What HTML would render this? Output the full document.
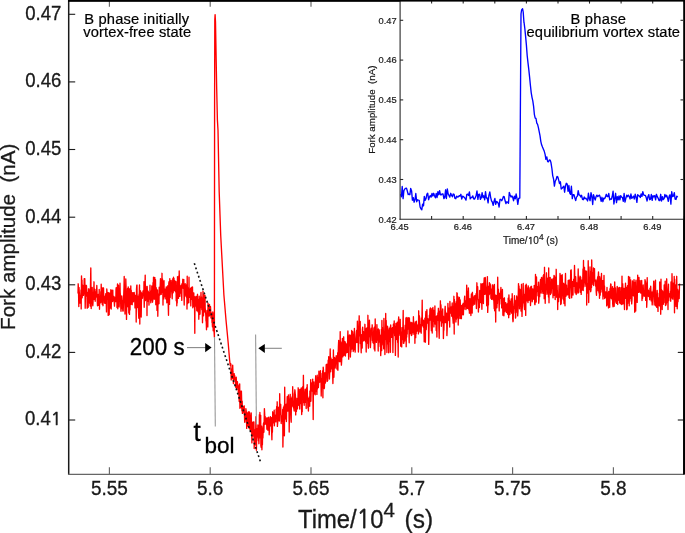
<!DOCTYPE html>
<html><head><meta charset="utf-8"><style>
html,body{margin:0;padding:0;background:#fff;}
body{width:685px;height:533px;overflow:hidden;}
svg{display:block;font-family:"Liberation Sans",Arial,sans-serif;}
</style></head><body>
<svg width="685" height="533" viewBox="0 0 685 533">
<rect width="685" height="533" fill="#fff"/>
<!-- main curve -->
<polyline points="78.0,293.5 78.2,283.8 78.5,289.7 78.8,306.5 79.0,287.4 79.2,291.0 79.5,294.9 79.8,297.3 80.0,303.1 80.2,300.3 80.5,301.6 80.8,298.5 81.0,289.9 81.2,308.9 81.5,275.9 81.8,283.8 82.0,280.1 82.2,297.8 82.5,291.8 82.8,290.2 83.0,285.3 83.2,293.4 83.5,295.4 83.8,293.1 84.0,289.9 84.2,278.7 84.5,285.5 84.8,278.6 85.0,288.4 85.2,308.2 85.5,292.2 85.8,288.4 86.0,289.0 86.2,285.3 86.5,285.8 86.8,296.6 87.0,296.6 87.2,308.3 87.5,293.0 87.8,303.4 88.0,292.3 88.2,307.3 88.5,288.8 88.8,291.1 89.0,295.5 89.2,300.0 89.5,302.8 89.8,303.6 90.0,288.7 90.2,306.0 90.5,284.8 90.8,268.0 91.0,286.5 91.2,308.5 91.5,287.5 91.8,288.7 92.0,301.4 92.2,287.4 92.5,302.1 92.8,305.8 93.0,302.7 93.2,296.9 93.5,296.3 93.8,289.7 94.0,281.8 94.2,299.2 94.5,298.4 94.8,299.5 95.0,289.3 95.2,301.3 95.5,294.6 95.8,297.1 96.0,291.8 96.2,293.5 96.5,294.9 96.8,285.5 97.0,290.8 97.2,299.4 97.5,305.8 97.8,299.9 98.0,297.9 98.2,294.4 98.5,305.4 98.8,305.1 99.0,303.9 99.2,289.4 99.5,309.2 99.8,296.3 100.0,297.0 100.2,299.4 100.5,302.8 100.8,291.6 101.0,298.1 101.2,284.2 101.5,302.1 101.8,297.5 102.0,288.0 102.2,304.3 102.5,299.2 102.8,290.4 103.0,305.7 103.2,287.8 103.5,288.0 103.8,298.6 104.0,298.9 104.2,296.6 104.5,303.0 104.8,297.9 105.0,303.3 105.2,295.9 105.5,297.6 105.8,293.6 106.0,303.2 106.2,300.7 106.5,311.9 106.8,289.0 107.0,291.7 107.2,299.1 107.5,293.3 107.8,293.3 108.0,292.6 108.2,315.4 108.5,307.6 108.8,297.8 109.0,292.7 109.2,314.7 109.5,294.7 109.8,308.3 110.0,300.7 110.2,293.5 110.5,299.5 110.8,289.8 111.0,295.8 111.2,309.1 111.5,296.1 111.8,290.2 112.0,299.1 112.2,295.1 112.5,301.6 112.8,290.1 113.0,300.9 113.2,298.2 113.5,300.7 113.8,296.4 114.0,296.5 114.2,301.9 114.5,306.1 114.8,298.5 115.0,299.5 115.2,298.2 115.5,297.1 115.8,301.6 116.0,289.7 116.2,287.6 116.5,295.1 116.8,296.0 117.0,307.5 117.2,294.9 117.5,284.0 117.8,308.8 118.0,292.9 118.2,305.6 118.5,285.2 118.8,302.9 119.0,305.5 119.2,306.9 119.5,289.7 119.8,296.6 120.0,283.2 120.2,292.5 120.5,296.1 120.8,307.7 121.0,311.3 121.2,298.1 121.5,308.8 121.8,295.9 122.0,298.0 122.2,301.7 122.5,300.5 122.8,311.0 123.0,303.5 123.2,311.0 123.5,302.5 123.8,292.2 124.0,287.2 124.2,276.4 124.5,296.8 124.8,299.0 125.0,314.0 125.2,286.2 125.5,301.2 125.8,279.0 126.0,285.1 126.2,296.8 126.5,319.4 126.8,301.9 127.0,292.9 127.2,303.0 127.5,288.7 127.8,299.5 128.0,306.7 128.2,286.9 128.5,290.2 128.8,313.1 129.0,305.5 129.2,303.7 129.5,314.4 129.8,288.6 130.0,309.9 130.2,298.4 130.5,297.6 130.8,285.9 131.0,304.3 131.2,290.1 131.5,297.3 131.8,298.2 132.0,302.6 132.2,304.7 132.5,292.8 132.8,299.1 133.0,292.6 133.2,301.8 133.5,301.3 133.8,295.2 134.0,297.3 134.2,292.5 134.5,297.3 134.8,300.1 135.0,307.9 135.2,298.7 135.5,297.2 135.8,295.2 136.0,295.5 136.2,322.1 136.5,289.3 136.8,285.4 137.0,285.0 137.2,307.6 137.5,299.4 137.8,300.2 138.0,296.1 138.2,302.6 138.5,311.5 138.8,318.2 139.0,294.2 139.2,295.8 139.5,285.0 139.8,324.1 140.0,301.9 140.2,294.3 140.5,290.8 140.8,302.5 141.0,292.1 141.2,317.0 141.5,296.8 141.8,293.1 142.0,298.0 142.2,293.9 142.5,298.2 142.8,295.3 143.0,291.0 143.2,293.3 143.5,291.6 143.8,294.5 144.0,281.6 144.2,307.2 144.5,297.8 144.8,300.3 145.0,284.6 145.2,275.1 145.5,300.5 145.8,292.9 146.0,295.8 146.2,288.7 146.5,291.4 146.8,286.4 147.0,315.5 147.2,286.4 147.5,301.4 147.8,301.4 148.0,297.1 148.2,291.1 148.5,300.2 148.8,300.9 149.0,305.1 149.2,294.3 149.5,292.5 149.8,294.7 150.0,285.2 150.2,299.1 150.5,297.6 150.8,302.8 151.0,291.1 151.2,291.5 151.5,300.2 151.8,285.9 152.0,294.6 152.2,286.6 152.5,302.2 152.8,300.0 153.0,282.6 153.2,295.4 153.5,277.1 153.8,289.4 154.0,295.7 154.2,299.3 154.5,285.2 154.8,277.5 155.0,298.8 155.2,284.7 155.5,279.7 155.8,304.7 156.0,289.4 156.2,287.7 156.5,292.5 156.8,298.7 157.0,310.4 157.2,299.7 157.5,290.0 157.8,316.2 158.0,302.8 158.2,294.2 158.5,296.2 158.8,297.5 159.0,303.7 159.2,287.3 159.5,293.1 159.8,295.0 160.0,289.7 160.2,285.6 160.5,278.6 160.8,285.9 161.0,291.7 161.2,294.4 161.5,290.7 161.8,289.0 162.0,273.3 162.2,292.3 162.5,278.9 162.8,287.7 163.0,305.1 163.2,285.7 163.5,281.8 163.8,298.9 164.0,280.6 164.2,297.0 164.5,295.7 164.8,293.8 165.0,289.1 165.2,295.6 165.5,289.2 165.8,298.9 166.0,297.0 166.2,286.9 166.5,288.3 166.8,302.8 167.0,296.4 167.2,287.0 167.5,292.7 167.8,285.8 168.0,297.0 168.2,303.7 168.5,315.3 168.8,283.1 169.0,281.8 169.2,282.9 169.5,304.4 169.8,278.7 170.0,297.4 170.2,297.4 170.5,282.1 170.8,280.7 171.0,285.8 171.2,280.4 171.5,289.6 171.8,292.6 172.0,295.3 172.2,298.8 172.5,285.0 172.8,278.7 173.0,292.8 173.2,292.5 173.5,277.2 173.8,282.7 174.0,278.4 174.2,290.6 174.5,287.3 174.8,288.4 175.0,280.8 175.2,285.4 175.5,291.7 175.8,285.1 176.0,281.6 176.2,300.8 176.5,288.0 176.8,305.8 177.0,293.8 177.2,303.0 177.5,276.6 177.8,283.6 178.0,290.6 178.2,291.3 178.5,298.4 178.8,276.0 179.0,294.1 179.2,270.9 179.5,283.7 179.8,296.4 180.0,291.0 180.2,290.2 180.5,293.1 180.8,285.8 181.0,288.8 181.2,285.3 181.5,292.6 181.8,300.4 182.0,283.6 182.2,287.4 182.5,285.5 182.8,279.3 183.0,286.2 183.2,288.3 183.5,282.8 183.8,279.5 184.0,295.8 184.2,305.0 184.5,287.8 184.8,295.3 185.0,293.2 185.2,283.7 185.5,289.6 185.8,286.8 186.0,296.4 186.2,285.3 186.5,297.3 186.8,284.3 187.0,309.1 187.2,276.2 187.5,303.7 187.8,296.8 188.0,299.7 188.2,298.3 188.5,287.6 188.8,302.7 189.0,277.2 189.2,296.8 189.5,293.8 189.8,293.2 190.0,297.3 190.2,293.1 190.5,288.5 190.8,305.9 191.0,297.4 191.2,288.0 191.5,287.4 191.8,290.1 192.0,294.7 192.2,299.4 192.5,287.0 192.8,307.8 193.0,298.5 193.2,300.7 193.5,293.0 193.8,293.0 194.0,302.7 194.2,306.7 194.5,297.4 194.8,333.3 195.0,296.8 195.2,298.1 195.5,302.0 195.8,298.8 196.0,306.0 196.2,296.3 196.5,301.2 196.8,310.7 197.0,299.2 197.2,303.5 197.5,294.3 197.8,308.0 198.0,311.7 198.2,303.8 198.5,299.6 198.8,319.2 199.0,312.1 199.2,296.1 199.5,310.0 199.8,300.2 200.0,314.2 200.2,307.6 200.5,298.2 200.8,297.3 201.0,292.5 201.2,307.6 201.5,296.9 201.8,309.7 202.0,309.8 202.2,304.8 202.5,322.7 202.8,305.6 203.0,291.3 203.2,311.3 203.5,315.8 203.8,294.6 204.0,303.0 204.2,312.1 204.5,299.4 204.8,311.9 205.0,295.2 205.2,307.8 205.5,312.1 205.8,315.1 206.0,320.9 206.2,320.2 206.5,329.7 206.8,319.4 207.0,310.5 207.2,314.9 207.5,311.0 207.8,326.9 208.0,303.1 208.2,306.1 208.5,312.9 208.8,307.5 209.0,314.3 209.2,316.1 209.5,304.5 209.8,307.6 210.0,315.2 210.2,312.0 210.5,306.6 210.8,312.4 211.0,318.0 211.2,312.6 211.5,316.4 211.8,313.1 212.0,322.6 212.2,322.1 212.5,326.9 212.8,311.9 213.0,313.3 213.2,330.7 213.5,321.6 214.4,337 214.6,100 214.8,20 215.1,14.6 215.5,22 216.7,89 217.4,120 218,130 219.2,192 220.7,235 223.9,295 226,320 228.2,343 229.6,360 230.2,365.2 230.4,364.3 230.7,363.6 230.9,364.4 231.2,379.9 231.4,369.0 231.7,377.2 231.9,372.4 232.2,371.8 232.4,378.3 232.7,365.2 232.9,371.9 233.2,375.4 233.4,383.6 233.7,379.5 233.9,380.1 234.2,373.6 234.4,374.9 234.7,375.8 234.9,379.9 235.2,380.0 235.4,379.2 235.7,387.3 235.9,384.9 236.2,377.1 236.4,380.2 236.7,389.6 236.9,382.2 237.2,385.2 237.4,381.6 237.7,385.2 237.9,384.9 238.2,388.4 238.4,392.7 238.7,390.0 238.9,394.2 239.2,401.5 239.4,385.1 239.7,384.0 239.9,408.3 240.2,405.3 240.4,399.4 240.7,394.3 240.9,391.2 241.2,407.8 241.4,391.1 241.7,401.9 241.9,410.8 242.2,401.1 242.4,413.4 242.7,406.9 242.9,409.4 243.2,409.8 243.4,406.6 243.7,407.0 243.9,412.9 244.2,405.8 244.4,413.1 244.7,422.2 244.9,422.3 245.2,418.6 245.4,416.3 245.7,414.9 245.9,408.6 246.2,411.0 246.4,413.3 246.7,428.4 246.9,413.0 247.2,413.6 247.4,413.0 247.7,418.1 247.9,426.1 248.2,417.0 248.4,411.8 248.7,417.1 248.9,420.7 249.2,428.2 249.4,411.9 249.7,414.2 249.9,429.2 250.2,415.4 250.4,415.9 250.7,431.7 250.9,427.4 251.2,412.9 251.4,422.8 251.7,429.6 251.9,442.9 252.2,428.3 252.4,435.2 252.7,422.1 252.9,436.0 253.2,433.7 253.4,431.5 253.7,429.6 253.9,421.8 254.2,448.6 254.4,439.0 254.7,432.6 254.9,445.2 255.2,432.5 255.4,429.3 255.7,432.3 255.9,416.8 256.2,432.2 256.4,450.3 256.7,436.3 256.9,438.3 257.2,428.4 257.4,435.7 257.7,436.4 257.9,424.9 258.2,427.7 258.4,440.7 258.7,432.7 258.9,443.7 259.2,433.1 259.4,414.6 259.7,433.7 259.9,412.5 260.2,437.8 260.4,437.6 260.7,415.3 260.9,445.7 261.2,447.3 261.4,429.9 261.7,426.2 261.9,449.7 262.2,438.7 262.4,444.7 262.7,427.9 262.9,437.9 263.2,429.3 263.4,424.0 263.7,422.7 263.9,432.2 264.2,418.8 264.4,408.6 264.7,414.3 264.9,424.2 265.2,416.4 265.4,422.5 265.7,423.0 265.9,424.0 266.2,423.4 266.4,418.2 266.7,424.6 266.9,429.2 267.2,417.7 267.4,423.0 267.7,422.7 267.9,430.3 268.2,418.6 268.4,420.8 268.7,417.2 268.9,418.5 269.2,434.8 269.4,431.3 269.7,422.7 269.9,424.8 270.2,421.4 270.4,416.6 270.7,423.3 270.9,426.0 271.2,419.5 271.4,417.7 271.7,434.0 271.9,439.8 272.2,423.4 272.4,432.2 272.7,411.8 272.9,419.3 273.2,414.3 273.4,422.8 273.7,416.5 273.9,418.2 274.2,410.1 274.4,425.8 274.7,415.1 274.9,415.3 275.2,416.7 275.4,419.5 275.7,416.8 275.9,421.9 276.2,409.2 276.4,414.0 276.7,406.5 276.9,416.1 277.2,401.8 277.4,426.4 277.7,422.5 277.9,420.6 278.2,407.2 278.4,420.6 278.7,418.1 278.9,409.0 279.2,418.4 279.4,421.0 279.7,393.7 279.9,408.1 280.2,405.5 280.4,414.3 280.7,404.3 280.9,414.2 281.2,423.5 281.4,416.6 281.7,421.0 281.9,415.8 282.2,418.6 282.4,419.2 282.7,409.5 282.9,447.0 283.2,429.9 283.4,407.9 283.7,407.0 283.9,407.8 284.2,405.6 284.4,435.8 284.7,387.2 284.9,406.9 285.2,414.7 285.4,407.8 285.7,416.4 285.9,419.3 286.2,404.3 286.4,421.6 286.7,407.7 286.9,408.6 287.2,396.7 287.4,396.7 287.7,411.1 287.9,408.8 288.2,409.1 288.4,394.9 288.7,398.9 288.9,399.3 289.2,432.1 289.4,415.5 289.7,413.3 289.9,407.7 290.2,394.3 290.4,411.4 290.7,411.6 290.9,419.1 291.2,422.2 291.4,398.3 291.7,405.4 291.9,401.0 292.2,396.6 292.4,406.0 292.7,386.7 292.9,402.1 293.2,400.8 293.4,407.8 293.7,403.5 293.9,408.8 294.2,411.0 294.4,394.0 294.7,392.1 294.9,389.8 295.2,393.6 295.4,395.2 295.7,414.9 295.9,405.1 296.2,404.4 296.4,411.4 296.7,406.0 296.9,398.3 297.2,404.7 297.4,408.9 297.7,402.5 297.9,402.7 298.2,387.8 298.4,405.3 298.7,401.1 298.9,402.9 299.2,389.4 299.4,394.3 299.7,409.0 299.9,400.1 300.2,403.8 300.4,397.8 300.7,389.1 300.9,398.5 301.2,387.9 301.4,400.1 301.7,414.5 301.9,402.3 302.2,411.7 302.4,388.7 302.7,386.7 302.9,391.0 303.2,394.4 303.4,375.3 303.7,402.7 303.9,395.7 304.2,405.3 304.4,392.1 304.7,393.9 304.9,392.6 305.2,389.1 305.4,402.4 305.7,396.9 305.9,394.9 306.2,408.6 306.4,390.8 306.7,387.6 306.9,394.1 307.2,384.6 307.4,395.0 307.7,400.6 307.9,407.9 308.2,399.3 308.4,411.1 308.7,399.1 308.9,398.3 309.2,397.8 309.4,396.9 309.7,406.2 309.9,390.9 310.2,397.9 310.4,397.0 310.7,379.6 310.9,401.2 311.2,386.9 311.4,385.1 311.7,390.5 311.9,382.9 312.2,384.0 312.4,391.2 312.7,379.1 312.9,391.7 313.2,419.5 313.4,386.9 313.7,392.3 313.9,381.9 314.2,393.9 314.4,393.6 314.7,385.8 314.9,388.1 315.2,394.8 315.4,382.2 315.7,375.8 315.9,391.4 316.2,383.5 316.4,383.2 316.7,384.5 316.9,394.4 317.2,375.2 317.4,388.9 317.7,381.7 317.9,380.2 318.2,377.1 318.4,387.5 318.7,381.6 318.9,371.1 319.2,377.6 319.4,376.8 319.7,382.2 319.9,380.4 320.2,380.1 320.4,370.6 320.7,380.4 320.9,373.5 321.2,396.0 321.4,388.4 321.7,387.1 321.9,378.5 322.2,386.8 322.4,379.8 322.7,370.6 322.9,397.8 323.2,367.1 323.4,369.1 323.7,377.4 323.9,375.0 324.2,388.5 324.4,387.6 324.7,374.7 324.9,372.7 325.2,381.5 325.4,383.0 325.7,379.9 325.9,375.2 326.2,364.6 326.4,373.4 326.7,372.7 326.9,364.2 327.2,381.4 327.4,377.3 327.7,380.5 327.9,368.9 328.2,360.1 328.4,368.5 328.7,356.6 328.9,363.5 329.2,372.7 329.4,379.0 329.7,372.1 329.9,365.7 330.2,348.9 330.4,357.9 330.7,371.7 330.9,357.9 331.2,359.7 331.4,367.8 331.7,366.4 331.9,368.7 332.2,360.7 332.4,359.6 332.7,375.2 332.9,383.5 333.2,371.0 333.4,350.0 333.7,369.4 333.9,377.3 334.2,366.8 334.4,357.5 334.7,366.2 334.9,361.9 335.2,368.0 335.4,364.4 335.7,357.9 335.9,361.7 336.2,355.7 336.4,360.7 336.7,360.0 336.9,369.1 337.2,357.0 337.4,364.1 337.7,352.7 337.9,370.3 338.2,352.7 338.4,346.8 338.7,340.4 338.9,356.4 339.2,355.8 339.4,361.6 339.7,359.4 339.9,361.8 340.2,331.6 340.4,357.6 340.7,359.6 340.9,341.8 341.2,360.5 341.4,365.1 341.7,360.3 341.9,349.4 342.2,348.0 342.4,338.4 342.7,346.8 342.9,356.8 343.2,348.0 343.4,340.5 343.7,336.8 343.9,355.4 344.2,341.2 344.4,354.6 344.7,341.8 344.9,351.7 345.2,341.8 345.4,356.1 345.7,343.1 345.9,349.8 346.2,351.7 346.4,352.8 346.7,344.1 346.9,346.2 347.2,351.9 347.4,352.4 347.7,336.6 347.9,330.9 348.2,349.3 348.4,348.9 348.7,359.2 348.9,336.1 349.2,340.6 349.4,334.9 349.7,344.3 349.9,345.7 350.2,341.1 350.4,357.1 350.7,335.2 350.9,352.1 351.2,343.0 351.4,345.1 351.7,330.5 351.9,349.1 352.2,335.5 352.4,348.3 352.7,331.7 352.9,334.8 353.2,351.5 353.4,349.6 353.7,339.9 353.9,334.3 354.2,344.4 354.4,328.4 354.7,350.0 354.9,349.1 355.2,352.1 355.4,340.1 355.7,342.6 355.9,338.9 356.2,334.3 356.4,331.7 356.7,330.2 356.9,342.5 357.2,331.0 357.4,321.1 357.7,334.5 357.9,334.4 358.2,341.7 358.4,352.1 358.7,343.6 358.9,325.6 359.2,315.8 359.4,335.8 359.7,330.1 359.9,335.9 360.2,321.5 360.4,343.5 360.7,335.0 360.9,344.1 361.2,352.8 361.4,334.6 361.7,340.2 361.9,339.1 362.2,348.1 362.4,329.7 362.7,327.2 362.9,341.1 363.2,338.3 363.4,331.3 363.7,336.5 363.9,333.4 364.2,340.7 364.4,339.5 364.7,337.7 364.9,324.3 365.2,332.5 365.4,330.5 365.7,342.1 365.9,335.3 366.2,352.1 366.4,328.5 366.7,331.2 366.9,329.6 367.2,327.7 367.4,328.3 367.7,343.5 367.9,315.3 368.2,345.4 368.4,348.2 368.7,329.3 368.9,336.6 369.2,329.7 369.4,320.1 369.7,331.5 369.9,329.8 370.2,341.1 370.4,347.6 370.7,342.2 370.9,336.8 371.2,328.3 371.4,334.7 371.7,333.7 371.9,332.7 372.2,324.8 372.4,340.5 372.7,337.4 372.9,342.5 373.2,333.8 373.4,343.2 373.7,331.0 373.9,328.0 374.2,349.0 374.4,327.3 374.7,338.3 374.9,350.9 375.2,318.9 375.4,331.0 375.7,340.8 375.9,336.8 376.2,335.0 376.4,342.4 376.7,334.5 376.9,324.6 377.2,334.0 377.4,340.0 377.7,331.1 377.9,334.5 378.2,351.0 378.4,329.0 378.7,342.1 378.9,339.8 379.2,329.9 379.4,334.2 379.7,335.8 379.9,341.3 380.2,346.4 380.4,335.4 380.7,355.6 380.9,350.9 381.2,339.4 381.4,329.4 381.7,350.5 381.9,320.5 382.2,339.0 382.4,327.3 382.7,339.1 382.9,339.4 383.2,344.9 383.4,335.2 383.7,348.8 383.9,318.5 384.2,335.7 384.4,338.4 384.7,331.6 384.9,354.6 385.2,338.6 385.4,339.8 385.7,313.4 385.9,332.9 386.2,320.4 386.4,332.0 386.7,341.9 386.9,352.6 387.2,336.9 387.4,326.2 387.7,327.3 387.9,331.9 388.2,343.8 388.4,331.2 388.7,352.8 388.9,329.9 389.2,339.2 389.4,328.4 389.7,340.5 389.9,341.6 390.2,327.0 390.4,352.3 390.7,324.9 390.9,333.5 391.2,328.2 391.4,337.3 391.7,337.4 391.9,328.1 392.2,330.4 392.4,327.7 392.7,332.0 392.9,352.5 393.2,332.2 393.4,324.3 393.7,329.1 393.9,332.9 394.2,320.9 394.4,329.4 394.7,335.6 394.9,326.1 395.2,331.7 395.4,355.4 395.7,334.8 395.9,323.5 396.2,335.2 396.4,326.5 396.7,326.8 396.9,339.5 397.2,322.1 397.4,331.0 397.7,342.4 397.9,335.8 398.2,357.1 398.4,321.1 398.7,316.9 398.9,335.4 399.2,329.5 399.4,323.9 399.7,333.7 399.9,330.6 400.2,319.3 400.4,332.6 400.7,346.2 400.9,332.2 401.2,331.9 401.4,334.9 401.7,346.9 401.9,327.6 402.2,339.0 402.4,339.5 402.7,332.8 402.9,327.0 403.2,310.4 403.4,343.3 403.7,329.8 403.9,343.2 404.2,333.0 404.4,335.7 404.7,341.1 404.9,331.0 405.2,325.1 405.4,327.5 405.7,328.9 405.9,317.9 406.2,346.7 406.4,326.5 406.7,337.1 406.9,317.4 407.2,334.1 407.4,318.5 407.7,324.7 407.9,326.8 408.2,329.0 408.4,317.7 408.7,322.6 408.9,329.4 409.2,342.8 409.4,317.9 409.7,332.8 409.9,323.6 410.2,322.2 410.4,323.1 410.7,333.7 410.9,328.9 411.2,330.7 411.4,335.5 411.7,322.4 411.9,334.9 412.2,328.1 412.4,332.9 412.7,330.1 412.9,323.0 413.2,332.3 413.4,316.7 413.7,328.9 413.9,334.2 414.2,326.9 414.4,329.2 414.7,323.8 414.9,343.3 415.2,321.9 415.4,334.6 415.7,337.7 415.9,325.8 416.2,333.7 416.4,321.2 416.7,330.5 416.9,330.2 417.2,331.0 417.4,327.4 417.7,326.7 417.9,325.4 418.2,324.3 418.4,333.9 418.7,310.8 418.9,322.3 419.2,324.3 419.4,315.7 419.7,320.9 419.9,331.9 420.2,328.4 420.4,328.0 420.7,325.1 420.9,324.4 421.2,333.2 421.4,317.9 421.7,323.2 421.9,322.7 422.2,300.1 422.4,322.6 422.7,325.9 422.9,319.7 423.2,321.1 423.4,327.2 423.7,320.6 423.9,327.4 424.2,341.8 424.4,325.3 424.7,327.5 424.9,318.1 425.2,328.6 425.4,342.2 425.7,315.1 425.9,311.5 426.2,329.7 426.4,326.8 426.7,321.1 426.9,309.6 427.2,323.2 427.4,318.3 427.7,319.7 427.9,322.8 428.2,319.0 428.4,323.9 428.7,344.4 428.9,337.0 429.2,321.4 429.4,315.3 429.7,316.7 429.9,308.9 430.2,320.0 430.4,307.9 430.7,315.5 430.9,315.5 431.2,326.5 431.4,330.7 431.7,319.3 431.9,308.7 432.2,333.1 432.4,319.3 432.7,321.1 432.9,307.5 433.2,319.8 433.4,317.9 433.7,310.5 433.9,326.9 434.2,311.9 434.4,319.2 434.7,320.2 434.9,305.9 435.2,324.1 435.4,316.5 435.7,322.5 435.9,319.5 436.2,330.5 436.4,316.2 436.7,323.4 436.9,337.0 437.2,317.3 437.4,315.4 437.7,320.3 437.9,313.0 438.2,317.8 438.4,308.3 438.7,314.8 438.9,328.7 439.2,338.3 439.4,321.8 439.7,311.1 439.9,317.4 440.2,314.1 440.4,300.8 440.7,320.9 440.9,304.7 441.2,311.7 441.4,326.3 441.7,318.1 441.9,320.5 442.2,317.3 442.4,313.5 442.7,308.9 442.9,323.1 443.2,316.0 443.4,338.5 443.7,327.3 443.9,330.2 444.2,316.6 444.4,321.2 444.7,322.5 444.9,310.2 445.2,306.3 445.4,316.7 445.7,312.2 445.9,322.7 446.2,313.4 446.4,317.4 446.7,313.5 446.9,335.6 447.2,328.9 447.4,317.6 447.7,320.8 447.9,303.4 448.2,316.0 448.4,320.2 448.7,314.2 448.9,308.2 449.2,312.0 449.4,319.9 449.7,327.0 449.9,301.4 450.2,310.6 450.4,313.3 450.7,312.5 450.9,312.4 451.2,306.9 451.4,306.9 451.7,316.2 451.9,308.7 452.2,303.0 452.4,309.8 452.7,317.1 452.9,319.1 453.2,323.1 453.4,308.1 453.7,306.6 453.9,296.3 454.2,334.1 454.4,299.4 454.7,311.0 454.9,315.8 455.2,303.8 455.4,312.0 455.7,318.6 455.9,322.0 456.2,301.6 456.4,319.1 456.7,312.6 456.9,292.8 457.2,293.2 457.4,317.8 457.7,302.2 457.9,296.6 458.2,325.1 458.4,317.9 458.7,307.0 458.9,300.7 459.2,298.3 459.4,297.5 459.7,307.0 459.9,318.6 460.2,299.9 460.4,305.8 460.7,307.4 460.9,311.9 461.2,318.7 461.4,318.5 461.7,305.4 461.9,305.8 462.2,312.6 462.4,314.7 462.7,304.5 462.9,304.7 463.2,303.3 463.4,314.8 463.7,303.4 463.9,306.3 464.2,309.2 464.4,299.9 464.7,296.1 464.9,306.3 465.2,300.6 465.4,302.4 465.7,303.6 465.9,309.6 466.2,305.2 466.4,302.4 466.7,285.1 466.9,294.1 467.2,308.3 467.4,291.1 467.7,304.3 467.9,294.0 468.2,308.5 468.4,288.0 468.7,300.7 468.9,309.9 469.2,301.4 469.4,313.2 469.7,312.9 469.9,298.6 470.2,307.6 470.4,302.8 470.7,307.3 470.9,315.5 471.2,298.0 471.4,294.0 471.7,302.6 471.9,304.8 472.2,313.1 472.4,292.3 472.7,299.4 472.9,301.1 473.2,305.1 473.4,301.2 473.7,297.6 473.9,297.9 474.2,296.0 474.4,299.3 474.7,304.3 474.9,300.0 475.2,295.4 475.4,296.0 475.7,297.2 475.9,298.4 476.2,293.5 476.4,308.5 476.7,290.9 476.9,282.8 477.2,299.0 477.4,295.2 477.7,286.7 477.9,297.8 478.2,302.7 478.4,312.1 478.7,299.8 478.9,304.8 479.2,304.8 479.4,307.5 479.7,290.4 479.9,292.0 480.2,298.3 480.4,302.3 480.7,297.9 480.9,283.7 481.2,302.9 481.4,284.1 481.7,303.1 481.9,309.3 482.2,288.8 482.4,283.7 482.7,293.8 482.9,284.6 483.2,289.1 483.4,303.6 483.7,283.0 483.9,284.7 484.2,278.0 484.4,289.9 484.7,294.4 484.9,283.5 485.2,277.4 485.4,279.3 485.7,293.3 485.9,288.5 486.2,294.7 486.4,289.5 486.7,305.7 486.9,287.8 487.2,284.9 487.4,276.6 487.7,312.4 487.9,307.1 488.2,295.4 488.4,305.1 488.7,286.1 488.9,292.7 489.2,294.7 489.4,282.7 489.7,293.6 489.9,283.5 490.2,290.1 490.4,285.9 490.7,284.9 490.9,298.3 491.2,288.9 491.4,289.8 491.7,299.4 491.9,290.9 492.2,299.1 492.4,290.6 492.7,284.8 492.9,285.5 493.2,287.1 493.4,300.1 493.7,290.3 493.9,301.6 494.2,308.6 494.4,284.5 494.7,310.8 494.9,294.3 495.2,297.5 495.4,302.6 495.7,322.0 495.9,299.1 496.2,295.5 496.4,299.4 496.7,298.6 496.9,307.8 497.2,301.0 497.4,303.5 497.7,277.2 497.9,292.4 498.2,290.3 498.4,289.1 498.7,297.4 498.9,301.2 499.2,310.9 499.4,299.8 499.7,304.1 499.9,293.1 500.2,298.2 500.4,294.0 500.7,291.2 500.9,287.5 501.2,298.7 501.4,294.2 501.7,307.9 501.9,307.2 502.2,306.2 502.4,289.4 502.7,305.7 502.9,315.2 503.2,311.4 503.4,300.3 503.7,298.8 503.9,315.8 504.2,307.7 504.4,297.8 504.7,309.0 504.9,311.5 505.2,309.5 505.4,303.3 505.7,302.6 505.9,310.3 506.2,306.3 506.4,312.5 506.7,304.5 506.9,307.0 507.2,303.8 507.4,304.9 507.7,314.2 507.9,313.8 508.2,298.2 508.4,306.4 508.7,317.7 508.9,294.9 509.2,301.8 509.4,300.5 509.7,309.6 509.9,314.5 510.2,311.0 510.4,301.4 510.7,304.1 510.9,311.5 511.2,298.9 511.4,299.6 511.7,313.2 511.9,310.6 512.2,293.7 512.5,306.9 512.7,318.8 513.0,321.7 513.2,320.1 513.5,306.6 513.7,313.0 514.0,304.3 514.2,302.3 514.5,295.7 514.7,303.0 515.0,308.6 515.2,300.2 515.5,318.1 515.7,317.3 516.0,305.3 516.2,312.6 516.5,304.4 516.7,296.0 517.0,299.4 517.2,301.5 517.5,303.8 517.7,315.9 518.0,311.5 518.2,297.2 518.5,283.6 518.7,298.7 519.0,286.0 519.2,294.0 519.5,308.8 519.7,288.8 520.0,306.4 520.2,296.5 520.5,305.2 520.7,290.0 521.0,311.1 521.2,308.3 521.5,284.3 521.7,295.4 522.0,316.4 522.2,309.1 522.5,306.1 522.7,299.6 523.0,301.8 523.2,283.5 523.5,302.7 523.7,294.2 524.0,295.5 524.2,303.1 524.5,309.5 524.7,305.3 525.0,294.8 525.2,291.8 525.5,285.4 525.7,315.4 526.0,295.8 526.2,284.1 526.5,287.6 526.7,291.8 527.0,300.8 527.2,289.0 527.5,288.3 527.7,297.5 528.0,302.6 528.2,285.8 528.5,288.9 528.7,291.7 529.0,300.3 529.2,299.0 529.5,298.7 529.7,299.0 530.0,288.3 530.2,287.4 530.5,305.5 530.7,300.2 531.0,286.5 531.2,298.9 531.5,286.3 531.7,298.3 532.0,288.5 532.2,301.8 532.5,298.8 532.7,297.8 533.0,297.4 533.2,289.1 533.5,297.6 533.7,299.2 534.0,295.4 534.2,285.5 534.5,292.8 534.7,304.1 535.0,304.7 535.2,300.6 535.5,274.4 535.7,292.7 536.0,285.2 536.2,302.1 536.5,276.9 536.7,287.0 537.0,291.6 537.2,291.5 537.5,291.7 537.7,286.7 538.0,295.8 538.2,295.2 538.5,282.2 538.7,303.2 539.0,299.5 539.2,286.9 539.5,288.6 539.7,296.7 540.0,285.7 540.2,283.1 540.5,279.5 540.7,289.1 541.0,292.2 541.2,293.1 541.5,277.4 541.7,288.7 542.0,289.1 542.2,283.6 542.5,277.9 542.7,291.6 543.0,293.4 543.2,275.8 543.5,289.2 543.7,274.6 544.0,281.6 544.2,298.7 544.5,267.3 544.7,283.8 545.0,285.7 545.2,303.3 545.5,289.5 545.7,286.0 546.0,287.7 546.2,281.7 546.5,272.8 546.7,284.6 547.0,294.2 547.2,288.6 547.5,278.1 547.7,282.9 548.0,283.1 548.2,281.3 548.5,297.1 548.7,267.9 549.0,302.7 549.2,281.6 549.5,290.7 549.7,289.9 550.0,277.4 550.2,277.4 550.5,294.6 550.7,287.1 551.0,284.8 551.2,293.2 551.5,286.9 551.7,279.2 552.0,279.0 552.2,282.1 552.5,288.4 552.7,282.0 553.0,297.8 553.2,287.1 553.5,278.3 553.7,289.1 554.0,275.4 554.2,295.4 554.5,275.8 554.7,284.3 555.0,286.5 555.2,299.6 555.5,277.1 555.7,284.5 556.0,290.8 556.2,269.3 556.5,291.2 556.7,297.3 557.0,296.5 557.2,290.9 557.5,292.7 557.7,309.6 558.0,285.4 558.2,294.7 558.5,301.6 558.7,298.1 559.0,296.5 559.2,297.4 559.5,295.1 559.7,289.3 560.0,273.4 560.2,277.2 560.5,286.5 560.7,304.6 561.0,275.4 561.2,303.6 561.5,296.7 561.7,282.7 562.0,282.8 562.2,274.7 562.5,287.3 562.7,291.0 563.0,298.8 563.2,294.6 563.5,299.9 563.7,283.3 564.0,303.6 564.2,285.9 564.5,288.6 564.7,284.4 565.0,305.8 565.2,284.7 565.5,273.4 565.7,286.1 566.0,296.2 566.2,289.3 566.5,285.1 566.7,291.8 567.0,294.9 567.2,288.4 567.5,293.8 567.7,294.8 568.0,289.5 568.2,280.5 568.5,287.6 568.7,289.0 569.0,297.6 569.2,280.0 569.5,292.6 569.7,298.4 570.0,292.2 570.2,287.8 570.5,285.5 570.7,270.4 571.0,283.4 571.2,269.8 571.5,282.8 571.7,297.8 572.0,286.6 572.2,285.8 572.5,281.6 572.7,285.9 573.0,295.0 573.2,281.2 573.5,284.9 573.7,279.1 574.0,283.2 574.2,286.2 574.5,265.5 574.7,273.1 575.0,291.2 575.2,292.9 575.5,288.6 575.7,276.7 576.0,284.7 576.2,294.5 576.5,290.9 576.7,282.8 577.0,293.3 577.2,289.9 577.5,290.9 577.7,285.3 578.0,280.8 578.2,269.0 578.5,292.8 578.7,291.8 579.0,277.8 579.2,280.8 579.5,286.7 579.7,287.7 580.0,276.2 580.2,280.9 580.5,292.2 580.7,277.2 581.0,285.7 581.2,294.4 581.5,280.5 581.7,280.2 582.0,290.0 582.2,281.7 582.5,283.5 582.7,283.1 583.0,268.9 583.2,290.6 583.5,260.4 583.7,286.9 584.0,286.3 584.2,282.9 584.5,267.3 584.7,282.7 585.0,281.9 585.2,275.7 585.5,271.0 585.7,284.2 586.0,286.3 586.2,273.3 586.5,271.2 586.7,305.0 587.0,283.6 587.2,293.5 587.5,288.6 587.7,284.5 588.0,286.9 588.2,260.7 588.5,277.4 588.7,302.6 589.0,279.9 589.2,278.7 589.5,281.0 589.7,289.5 590.0,267.0 590.2,289.3 590.5,271.1 590.7,291.7 591.0,289.9 591.2,273.9 591.5,287.5 591.7,260.0 592.0,277.2 592.2,284.6 592.5,276.3 592.7,273.0 593.0,280.6 593.2,282.6 593.5,268.0 593.7,285.6 594.0,268.8 594.2,278.8 594.5,268.6 594.7,279.7 595.0,281.0 595.2,279.6 595.5,284.3 595.7,286.2 596.0,281.2 596.2,291.7 596.5,295.3 596.7,282.1 597.0,279.7 597.2,286.1 597.5,278.6 597.7,276.8 598.0,290.8 598.2,277.6 598.5,272.0 598.7,276.7 599.0,292.9 599.2,276.8 599.5,298.3 599.7,276.6 600.0,279.3 600.2,295.2 600.5,283.6 600.7,280.0 601.0,292.1 601.2,281.8 601.5,273.5 601.7,289.2 602.0,288.0 602.2,283.0 602.5,280.6 602.7,290.9 603.0,299.1 603.2,281.5 603.5,296.0 603.7,290.6 604.0,275.5 604.2,288.8 604.5,286.0 604.7,298.5 605.0,292.6 605.2,297.1 605.5,292.0 605.7,296.3 606.0,297.5 606.2,292.2 606.5,293.3 606.7,305.9 607.0,287.4 607.2,299.0 607.5,304.9 607.7,293.6 608.0,297.0 608.2,292.8 608.5,307.9 608.7,291.5 609.0,302.0 609.2,296.6 609.5,305.5 609.7,307.3 610.0,288.6 610.2,297.0 610.5,286.9 610.7,283.9 611.0,284.4 611.2,298.3 611.5,293.4 611.7,288.9 612.0,293.6 612.2,299.7 612.5,286.7 612.7,304.0 613.0,306.8 613.2,288.4 613.5,292.0 613.7,294.8 614.0,293.0 614.2,306.3 614.5,288.5 614.7,281.9 615.0,295.1 615.2,298.9 615.5,288.0 615.7,301.2 616.0,302.7 616.2,301.8 616.5,303.3 616.7,299.2 617.0,292.2 617.2,286.4 617.5,289.6 617.7,304.6 618.0,292.9 618.2,287.8 618.5,297.1 618.7,300.2 619.0,296.8 619.2,299.8 619.5,287.4 619.7,303.0 620.0,300.4 620.2,300.8 620.5,291.4 620.7,303.8 621.0,287.7 621.2,290.1 621.5,288.2 621.7,304.5 622.0,276.1 622.2,304.0 622.5,297.9 622.7,283.7 623.0,291.4 623.2,303.7 623.5,297.8 623.7,288.5 624.0,303.9 624.2,299.2 624.5,309.6 624.7,288.3 625.0,288.9 625.2,293.3 625.5,283.1 625.7,298.3 626.0,297.9 626.2,287.2 626.5,298.1 626.7,309.7 627.0,295.9 627.2,309.1 627.5,285.7 627.7,303.4 628.0,295.0 628.2,299.5 628.5,276.5 628.7,285.7 629.0,292.0 629.2,305.8 629.5,291.6 629.7,277.1 630.0,295.6 630.2,281.8 630.5,298.4 630.7,280.0 631.0,298.2 631.2,301.1 631.5,289.8 631.7,303.9 632.0,299.7 632.2,289.5 632.5,281.0 632.7,284.8 633.0,286.4 633.2,294.2 633.5,295.8 633.7,290.5 634.0,279.7 634.2,286.9 634.5,292.1 634.7,312.2 635.0,290.7 635.2,282.4 635.5,290.3 635.7,311.0 636.0,280.2 636.2,289.5 636.5,286.8 636.7,288.3 637.0,286.3 637.2,302.4 637.5,284.5 637.7,275.2 638.0,285.8 638.2,286.6 638.5,292.4 638.7,290.9 639.0,277.5 639.2,287.4 639.5,288.8 639.7,292.0 640.0,288.5 640.2,280.6 640.5,292.6 640.7,284.3 641.0,293.2 641.2,291.2 641.5,290.9 641.7,280.5 642.0,300.5 642.2,296.4 642.5,298.4 642.7,296.7 643.0,291.9 643.2,285.0 643.5,294.5 643.7,290.6 644.0,294.2 644.2,296.2 644.5,290.5 644.7,292.4 645.0,279.6 645.2,296.3 645.5,281.0 645.7,300.4 646.0,284.2 646.2,288.3 646.5,283.1 646.7,307.2 647.0,299.8 647.2,277.6 647.5,290.9 647.7,293.7 648.0,296.1 648.2,295.8 648.5,290.2 648.7,296.6 649.0,296.4 649.2,295.7 649.5,292.4 649.7,299.7 650.0,288.1 650.2,292.2 650.5,290.9 650.7,286.2 651.0,292.9 651.2,300.9 651.5,300.4 651.7,292.2 652.0,300.1 652.2,304.9 652.5,299.5 652.7,293.7 653.0,291.2 653.2,291.4 653.5,287.9 653.7,281.1 654.0,298.1 654.2,305.1 654.5,293.1 654.7,301.7 655.0,295.1 655.2,282.1 655.5,280.2 655.7,305.9 656.0,296.8 656.2,303.8 656.5,300.0 656.7,307.3 657.0,293.5 657.2,290.4 657.5,307.7 657.7,293.2 658.0,311.4 658.2,297.8 658.5,298.1 658.7,301.9 659.0,297.7 659.2,303.6 659.5,305.9 659.7,282.0 660.0,290.2 660.2,306.0 660.5,299.1 660.7,314.2 661.0,279.2 661.2,301.2 661.5,289.5 661.7,300.7 662.0,290.4 662.2,309.5 662.5,290.8 662.7,295.5 663.0,292.7 663.2,294.9 663.5,304.2 663.7,291.6 664.0,302.4 664.2,285.0 664.5,290.4 664.7,288.1 665.0,291.0 665.2,281.1 665.5,305.6 665.7,292.8 666.0,304.8 666.2,303.6 666.5,302.7 666.7,278.8 667.0,299.3 667.2,297.6 667.5,301.7 667.7,290.4 668.0,309.5 668.2,290.3 668.5,284.2 668.7,300.7 669.0,295.0 669.2,297.2 669.5,295.4 669.7,293.6 670.0,294.5 670.2,295.6 670.5,291.1 670.7,301.2 671.0,281.9 671.2,296.7 671.5,294.1 671.7,297.9 672.0,273.7 672.2,281.7 672.5,299.0 672.7,290.4 673.0,285.1 673.2,283.1 673.5,290.4 673.7,290.0 674.0,299.8 674.2,276.5 674.5,312.8 674.7,279.2 675.0,297.8 675.2,285.7 675.5,284.8 675.7,300.8 676.0,306.4 676.2,296.2 676.5,296.2 676.7,276.3 677.0,295.1 677.2,308.8 677.5,302.6 677.7,289.5 678.0,301.7 678.2,298.1 678.5,294.4 678.7,291.4 679.0,290.8 679.2,298.6 679.5,284.7 679.7,283.6" fill="none" stroke="#ff0000" stroke-width="1.35" stroke-linejoin="round"/>
<!-- dotted fit line -->
<line x1="194.3" y1="263.3" x2="261" y2="463.4" stroke="#111" stroke-width="1.6" stroke-dasharray="1.9 2.5"/>
<!-- gray markers -->
<line x1="214.5" y1="337" x2="215.3" y2="426.6" stroke="#999" stroke-width="1.1"/>
<line x1="255.6" y1="334.6" x2="256.4" y2="424.4" stroke="#999" stroke-width="1.1"/>
<!-- arrows -->
<line x1="187" y1="347.6" x2="206" y2="347.6" stroke="#888" stroke-width="1.1"/>
<polygon points="205.2,343.0 211.6,347.6 205.2,352.2" fill="#000"/>
<line x1="281.8" y1="348.3" x2="264" y2="348.3" stroke="#888" stroke-width="1.1"/>
<polygon points="264.8,343.9 258.3,348.3 264.8,353.0" fill="#000"/>
<g fill="#000" stroke="#000" stroke-width="0.3">
<text x="129.8" y="354.8" font-size="22.4" transform="matrix(1 0 0 1.06 0 -21.29)">200 s</text>
<text x="193.6" y="440.7" font-size="26" transform="matrix(1 0 0 1.06 0 -26.44)">t</text>
<text x="204.5" y="453.3" font-size="22.5">bol</text>
</g>
<g fill="#000" stroke="#000" stroke-width="0.2" font-size="14.7">
<text x="84.2" y="23.6" textLength="104.9" lengthAdjust="spacing">B phase initially</text>
<text x="83.2" y="37.0" textLength="108" lengthAdjust="spacing">vortex-free state</text>
</g>
<!-- main axes -->
<g stroke="#1a1a1a" stroke-width="1.5" fill="none">
<line x1="68.7" y1="0" x2="68.7" y2="474.8"/>
<line x1="69" y1="14.3" x2="75.2" y2="14.3" stroke-width="1.1"/><line x1="683.5" y1="14.3" x2="677.8" y2="14.3" stroke-width="1.1"/><line x1="69" y1="81.9" x2="75.2" y2="81.9" stroke-width="1.1"/><line x1="683.5" y1="81.9" x2="677.8" y2="81.9" stroke-width="1.1"/><line x1="69" y1="149.5" x2="75.2" y2="149.5" stroke-width="1.1"/><line x1="683.5" y1="149.5" x2="677.8" y2="149.5" stroke-width="1.1"/><line x1="69" y1="217.2" x2="75.2" y2="217.2" stroke-width="1.1"/><line x1="683.5" y1="217.2" x2="677.8" y2="217.2" stroke-width="1.1"/><line x1="69" y1="284.8" x2="75.2" y2="284.8" stroke-width="1.1"/><line x1="683.5" y1="284.8" x2="677.8" y2="284.8" stroke-width="1.1"/><line x1="69" y1="352.4" x2="75.2" y2="352.4" stroke-width="1.1"/><line x1="683.5" y1="352.4" x2="677.8" y2="352.4" stroke-width="1.1"/><line x1="69" y1="420.0" x2="75.2" y2="420.0" stroke-width="1.1"/><line x1="683.5" y1="420.0" x2="677.8" y2="420.0" stroke-width="1.1"/>
</g>
<g stroke="#666" stroke-width="1.15" fill="none">
<line x1="68" y1="474.3" x2="684" y2="474.3"/>
<line x1="109.4" y1="474" x2="109.4" y2="467.3"/><line x1="109.4" y1="0" x2="109.4" y2="6.8"/><line x1="210.2" y1="474" x2="210.2" y2="467.3"/><line x1="210.2" y1="0" x2="210.2" y2="6.8"/><line x1="311.0" y1="474" x2="311.0" y2="467.3"/><line x1="311.0" y1="0" x2="311.0" y2="6.8"/><line x1="411.8" y1="474" x2="411.8" y2="467.3"/><line x1="411.8" y1="0" x2="411.8" y2="6.8"/><line x1="512.6" y1="474" x2="512.6" y2="467.3"/><line x1="512.6" y1="0" x2="512.6" y2="6.8"/><line x1="613.4" y1="474" x2="613.4" y2="467.3"/><line x1="613.4" y1="0" x2="613.4" y2="6.8"/>
</g>
<rect x="68" y="0" width="617" height="1.6" fill="#000"/>
<rect x="683.2" y="0" width="1.8" height="474.4" fill="#000"/>
<g fill="#1a1a1a" font-size="19" stroke="#1a1a1a" stroke-width="0.3">
<text x="109.4" y="495.3" text-anchor="middle" transform="matrix(1 0 0 1.06 0 -29.72)">5.55</text><text x="210.2" y="495.3" text-anchor="middle" transform="matrix(1 0 0 1.06 0 -29.72)">5.6</text><text x="311.0" y="495.3" text-anchor="middle" transform="matrix(1 0 0 1.06 0 -29.72)">5.65</text><text x="411.8" y="495.3" text-anchor="middle" transform="matrix(1 0 0 1.06 0 -29.72)">5.7</text><text x="512.6" y="495.3" text-anchor="middle" transform="matrix(1 0 0 1.06 0 -29.72)">5.75</text><text x="613.4" y="495.3" text-anchor="middle" transform="matrix(1 0 0 1.06 0 -29.72)">5.8</text><text x="61.4" y="19.7" text-anchor="end" font-size="18.6" transform="matrix(1 0 0 1.06 0 -1.18)">0.47</text><text x="61.4" y="87.3" text-anchor="end" font-size="18.6" transform="matrix(1 0 0 1.06 0 -5.24)">0.46</text><text x="61.4" y="154.9" text-anchor="end" font-size="18.6" transform="matrix(1 0 0 1.06 0 -9.29)">0.45</text><text x="61.4" y="222.6" text-anchor="end" font-size="18.6" transform="matrix(1 0 0 1.06 0 -13.36)">0.44</text><text x="61.4" y="290.2" text-anchor="end" font-size="18.6" transform="matrix(1 0 0 1.06 0 -17.41)">0.43</text><text x="61.4" y="357.8" text-anchor="end" font-size="18.6" transform="matrix(1 0 0 1.06 0 -21.47)">0.42</text><text x="61.4" y="425.4" text-anchor="end" font-size="18.6" transform="matrix(1 0 0 1.06 0 -25.52)">0.4<tspan font-family="NanumGothic" font-size="17.6" stroke-width="0.6">1</tspan></text>
</g>
<text transform="translate(15.3,236.8) scale(1,1.06) rotate(-90)" font-size="19.4" text-anchor="middle" fill="#1a1a1a" stroke="#1a1a1a" stroke-width="0.3">Fork amplitude&#160; (nA)</text>
<g fill="#1a1a1a" stroke="#1a1a1a" stroke-width="0.3"><text x="298.1" y="527.6" font-size="23.8" transform="matrix(1 0 0 1.09 0 -47.48)">Time/<tspan font-family="NanumGothic" font-size="22.5" stroke-width="0.7">1</tspan>0</text><text x="383.4" y="517.3" font-size="20.5">4</text><text x="404.5" y="527.6" font-size="24.5" transform="matrix(1 0 0 1.06 0 -31.66)">(s)</text></g>
<!-- inset -->
<rect x="400" y="0" width="284" height="219.5" fill="#fff"/>
<polyline points="400.5,194.1 401.4,196.8 402.2,186.5 403.1,198.6 403.9,190.6 404.8,189.0 405.6,188.3 406.5,188.1 407.3,191.0 408.2,194.5 409.0,194.0 409.9,194.7 410.7,188.4 411.6,190.9 412.4,200.2 413.3,197.7 414.1,202.2 415.0,199.5 415.8,193.5 416.7,201.8 417.5,199.8 418.4,200.2 419.2,200.3 420.1,207.0 420.9,208.8 421.8,209.8 422.6,204.1 423.5,205.9 424.3,196.4 425.2,200.3 426.0,198.8 426.9,194.2 427.7,193.2 428.6,199.7 429.4,197.1 430.3,195.5 431.1,197.2 432.0,193.5 432.8,196.0 433.7,193.3 434.5,195.8 435.4,197.8 436.2,193.5 437.1,197.5 437.9,191.6 438.8,194.7 439.6,190.7 440.5,194.8 441.3,194.9 442.2,193.8 443.0,193.8 443.9,198.6 444.7,197.6 445.6,189.8 446.4,198.5 447.3,188.9 448.1,193.6 449.0,195.5 449.8,197.1 450.7,193.3 451.5,195.1 452.4,196.8 453.2,194.0 454.1,194.4 454.9,198.4 455.8,198.7 456.6,196.1 457.5,197.0 458.3,196.9 459.2,195.7 460.0,196.0 460.9,194.3 461.7,199.0 462.6,196.2 463.4,196.6 464.3,197.5 465.1,198.4 466.0,200.1 466.8,194.3 467.7,194.1 468.5,195.5 469.4,191.9 470.2,198.8 471.1,197.4 471.9,197.5 472.8,195.9 473.6,198.8 474.5,199.1 475.3,197.7 476.2,195.2 477.0,191.0 477.9,199.4 478.7,194.4 479.6,194.1 480.4,199.4 481.3,197.7 482.1,192.6 483.0,197.6 483.8,195.8 484.7,199.8 485.5,191.6 486.4,198.0 487.2,197.9 488.1,202.9 488.9,195.3 489.8,191.9 490.6,197.1 491.5,200.9 492.3,202.0 493.2,205.4 494.0,201.5 494.9,198.5 495.7,204.4 496.6,201.5 497.4,202.0 498.3,203.3 499.1,207.0 500.0,199.4 500.8,199.3 501.7,200.7 502.5,199.3 503.4,196.5 504.2,196.6 505.1,200.8 505.9,203.6 506.8,201.8 507.6,202.2 508.5,203.2 509.3,192.4 510.2,195.0 511.0,197.0 511.9,195.9 512.7,197.4 513.6,200.7 514.4,196.2 515.3,198.9 516.1,194.0 517.0,198.3 517.8,204.4 518.7,198.3 519.8,198.0 521.0,14.0 521.6,10.0 522.6,8.8 523.2,12.0 524.0,23.0 524.0,22.0 524.8,28.3 525.6,36.4 526.4,45.1 527.2,55.7 528.0,62.9 528.8,69.7 529.6,77.1 530.4,85.2 531.2,92.6 532.0,97.3 532.8,100.8 533.6,106.4 534.4,114.7 535.2,118.2 536.0,118.5 536.8,123.1 537.6,124.4 538.4,127.6 539.2,131.6 540.0,135.6 540.8,141.3 541.6,144.8 542.5,147.1 543.4,149.2 544.2,151.1 545.1,154.4 545.9,159.3 546.8,156.9 547.6,161.5 548.5,161.8 549.3,160.0 550.2,160.1 551.0,162.8 551.9,168.5 552.7,175.6 553.6,179.1 554.4,186.1 555.3,181.0 556.1,179.7 557.0,176.5 557.8,176.8 558.7,180.2 559.5,183.5 560.4,181.8 561.2,189.0 562.1,188.3 562.9,187.1 563.8,186.1 564.6,192.2 565.5,185.9 566.3,183.3 567.2,184.0 568.0,191.3 568.9,185.5 569.7,192.9 570.6,194.4 571.4,186.2 572.3,198.6 573.1,194.7 574.0,194.6 574.8,197.7 575.7,200.6 576.5,197.1 577.4,196.1 578.2,190.7 579.1,195.0 579.9,195.1 580.8,197.0 581.6,195.3 582.5,199.3 583.3,199.7 584.2,196.9 585.0,198.7 585.9,198.2 586.7,199.3 587.6,201.0 588.4,193.2 589.3,198.9 590.1,200.7 591.0,192.7 591.8,195.9 592.7,204.5 593.5,194.7 594.4,197.7 595.2,200.0 596.1,196.5 596.9,195.1 597.8,196.6 598.6,195.8 599.5,195.1 600.3,197.5 601.2,201.4 602.0,197.3 602.9,201.7 603.7,198.1 604.6,198.7 605.4,197.1 606.3,194.3 607.1,196.5 608.0,196.5 608.8,193.5 609.7,199.8 610.5,199.0 611.4,199.2 612.2,196.5 613.1,191.2 613.9,204.0 614.8,198.3 615.6,193.3 616.5,202.6 617.3,196.6 618.2,199.9 619.0,196.0 619.9,199.9 620.7,195.7 621.6,197.1 622.4,197.3 623.3,201.3 624.1,193.5 625.0,202.1 625.8,198.6 626.7,195.1 627.5,196.7 628.4,195.2 629.2,196.5 630.1,199.0 630.9,194.0 631.8,198.4 632.6,197.3 633.5,196.1 634.3,199.0 635.2,194.1 636.0,196.9 636.9,202.4 637.7,194.6 638.6,195.6 639.4,196.1 640.3,197.5 641.1,194.0 642.0,196.4 642.8,191.6 643.7,194.9 644.5,195.4 645.4,195.4 646.2,197.6 647.1,201.0 647.9,196.7 648.8,194.6 649.6,199.7 650.5,199.1 651.3,194.5 652.2,200.3 653.0,195.6 653.9,196.8 654.7,195.6 655.6,199.9 656.4,194.3 657.3,196.7 658.1,198.1 659.0,200.6 659.8,200.6 660.7,194.3 661.5,201.0 662.4,196.7 663.2,199.6 664.1,198.5 664.9,194.5 665.8,196.9 666.6,195.3 667.5,197.8 668.3,201.4 669.2,196.1 670.0,194.8 670.9,204.1 671.7,191.7 672.6,196.6 673.4,196.2 674.3,192.7 675.1,199.1 676.0,199.5 676.8,196.2 677.7,197.3" fill="none" stroke="#0000ff" stroke-width="1.35" stroke-linejoin="round"/>
<g stroke="#3a3a3a" stroke-width="1.2" fill="none">
<line x1="400.1" y1="0" x2="400.1" y2="219.8"/>
</g>
<g stroke="#2a2a2a" stroke-width="1.1" fill="none">
<line x1="399.5" y1="219.3" x2="684" y2="219.3"/>
<line x1="431.6" y1="219.5" x2="431.6" y2="216"/><line x1="431.6" y1="0" x2="431.6" y2="3.6"/><line x1="463.2" y1="219.5" x2="463.2" y2="216"/><line x1="463.2" y1="0" x2="463.2" y2="3.6"/><line x1="494.8" y1="219.5" x2="494.8" y2="216"/><line x1="494.8" y1="0" x2="494.8" y2="3.6"/><line x1="526.4" y1="219.5" x2="526.4" y2="216"/><line x1="526.4" y1="0" x2="526.4" y2="3.6"/><line x1="558.0" y1="219.5" x2="558.0" y2="216"/><line x1="558.0" y1="0" x2="558.0" y2="3.6"/><line x1="589.5" y1="219.5" x2="589.5" y2="216"/><line x1="589.5" y1="0" x2="589.5" y2="3.6"/><line x1="621.1" y1="219.5" x2="621.1" y2="216"/><line x1="621.1" y1="0" x2="621.1" y2="3.6"/><line x1="652.7" y1="219.5" x2="652.7" y2="216"/><line x1="652.7" y1="0" x2="652.7" y2="3.6"/><line x1="684.3" y1="219.5" x2="684.3" y2="216"/><line x1="684.3" y1="0" x2="684.3" y2="3.6"/><line x1="400" y1="20.3" x2="403.2" y2="20.3"/><line x1="683" y1="20.3" x2="680.5" y2="20.3"/><line x1="400" y1="60.1" x2="403.2" y2="60.1"/><line x1="683" y1="60.1" x2="680.5" y2="60.1"/><line x1="400" y1="99.9" x2="403.2" y2="99.9"/><line x1="683" y1="99.9" x2="680.5" y2="99.9"/><line x1="400" y1="139.7" x2="403.2" y2="139.7"/><line x1="683" y1="139.7" x2="680.5" y2="139.7"/><line x1="400" y1="179.5" x2="403.2" y2="179.5"/><line x1="683" y1="179.5" x2="680.5" y2="179.5"/>
</g>
<g fill="#1a1a1a" font-size="9.3" stroke="#1a1a1a" stroke-width="0.2">
<text x="399.6" y="229.9" text-anchor="middle" transform="matrix(1 0 0 1.05 0 -11.50)">6.45</text><text x="462.8" y="229.9" text-anchor="middle" transform="matrix(1 0 0 1.05 0 -11.50)">6.46</text><text x="526.0" y="229.9" text-anchor="middle" transform="matrix(1 0 0 1.05 0 -11.50)">6.47</text><text x="589.1" y="229.9" text-anchor="middle" transform="matrix(1 0 0 1.05 0 -11.50)">6.48</text><text x="652.3" y="229.9" text-anchor="middle" transform="matrix(1 0 0 1.05 0 -11.50)">6.49</text><text x="396.6" y="23.7" text-anchor="end" transform="matrix(1 0 0 1.05 0 -1.19)">0.47</text><text x="396.6" y="63.5" text-anchor="end" transform="matrix(1 0 0 1.05 0 -3.18)">0.46</text><text x="396.6" y="103.3" text-anchor="end" transform="matrix(1 0 0 1.05 0 -5.17)">0.45</text><text x="396.6" y="143.1" text-anchor="end" transform="matrix(1 0 0 1.05 0 -7.16)">0.44</text><text x="396.6" y="182.9" text-anchor="end" transform="matrix(1 0 0 1.05 0 -9.15)">0.43</text><text x="396.6" y="222.7" text-anchor="end" transform="matrix(1 0 0 1.05 0 -11.14)">0.42</text>
</g>
<text transform="translate(375,109.7) scale(1,1.06) rotate(-90)" font-size="9.2" text-anchor="middle" fill="#1a1a1a" stroke="#1a1a1a" stroke-width="0.2">Fork amplitude&#160; (nA)</text>
<text x="503" y="243.6" font-size="10" fill="#1a1a1a" stroke="#1a1a1a" stroke-width="0.2">Time/<tspan font-family="NanumGothic" font-size="9.4" stroke-width="0.4">1</tspan>0<tspan font-size="8.4" dy="-3.6">4</tspan><tspan dy="3.6"> (s)</tspan></text>
<g fill="#000" font-size="14.7" stroke="#000" stroke-width="0.2">
<text x="570.4" y="23.6" textLength="55.6" lengthAdjust="spacing">B phase</text>
<text x="526.6" y="37.0" textLength="153.4" lengthAdjust="spacing">equilibrium vortex state</text>
</g>
<rect x="68" y="0" width="617" height="1.6" fill="#000"/>
<rect x="683.2" y="0" width="1.8" height="474.4" fill="#000"/>
</svg>
</body></html>
